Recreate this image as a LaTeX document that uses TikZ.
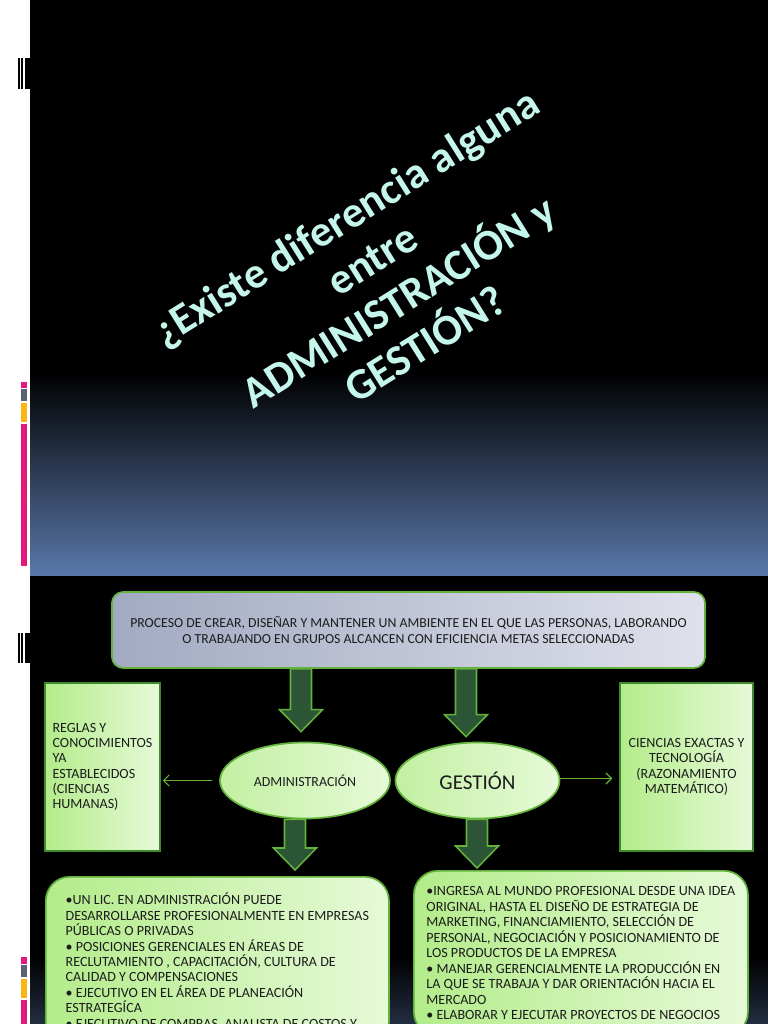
\documentclass[tikz,border=0pt]{standalone}
\usepackage{fontspec}
\setmainfont{Carlito}
\usetikzlibrary{positioning, arrows.meta, calc, shapes.geometric}
\definecolor{slideblue}{HTML}{5A78AA}
\definecolor{leafgreen}{HTML}{62B23C}
\definecolor{deepgreen}{HTML}{3E8A2C}
\definecolor{mossgreen}{HTML}{2B5535}
\definecolor{mintleft}{HTML}{B3EC8A}
\definecolor{mintright}{HTML}{E6FAD8}
\definecolor{greyleft}{HTML}{A2AAC2}
\definecolor{greyright}{HTML}{DFE1EB}
\definecolor{inkblack}{HTML}{1C1C1C}
\definecolor{glowmint}{HTML}{C4F6EC}
\definecolor{barpink}{HTML}{E2197C}
\definecolor{bargrey}{HTML}{586275}
\definecolor{bargold}{HTML}{FBB515}

% block arrow from #1 (top of shaft) to #2 (tip)
\newcommand{\blockarrow}[2]{%
  \draw[blockarr] ($(#1)+(-10.5,0)$) -- ($(#2)+(-10.5,-22)$) -- ($(#2)+(-21.5,-22)$) -- (#2)
    -- ($(#2)+(21.5,-22)$) -- ($(#2)+(10.5,-22)$) -- ($(#1)+(10.5,0)$) -- cycle;}

\begin{document}
\begin{tikzpicture}[
    x=0.025cm, y=-0.025cm,
    % Styles
    titletext/.style={font=\fontsize{31}{35.5}\selectfont\bfseries, text=glowmint, align=center, rotate=32},
    topbox/.style={rectangle, draw=leafgreen, line width=1.2pt, rounded corners=8pt, left color=greyleft, right color=greyright, minimum width=14.825cm, minimum height=1.9cm, align=center, text=inkblack, font=\fontsize{9.8}{10.8}\selectfont},
    sidebox/.style={rectangle, draw=deepgreen, line width=0.9pt, left color=mintleft, right color=mintright, minimum height=4.2cm, text=inkblack},
    ellnode/.style={ellipse, draw=leafgreen, line width=1.2pt, left color=mintleft!80!white, right color=mintright, minimum height=1.9cm, inner sep=0pt, text=inkblack},
    infobox/.style={rectangle, draw=leafgreen, line width=1.2pt, rounded corners=17pt, left color=mintleft, right color=mintright, anchor=north west, align=left, inner ysep=0.4cm, text=inkblack, font=\fontsize{10}{11}\selectfont},
    blockarr/.style={draw=leafgreen, line width=1.1pt, fill=mossgreen, line join=miter},
    thinarrow/.style={-{Straight Barb[length=4pt, width=8pt]}, leafgreen, line width=0.8pt}
]
\useasboundingbox (0,0) rectangle (768,1024);
\clip (0,0) rectangle (768,1024);

% ==================== SLIDE BACKGROUNDS ====================
\fill[white] (0,0) rectangle (768,1024);
\fill[black] (30,0) rectangle (768,372);
\shade[top color=black, bottom color=slideblue] (30,372) rectangle (768,576);
\fill[black] (30,576) rectangle (768,956);
\shade[top color=black, bottom color=slideblue!38!black] (30,956) rectangle (768,1024);

% side marks
\fill[black] (17.5,58) rectangle (19.5,89);
\fill[black] (21,58) rectangle (23,89);
\fill[black] (25,58) rectangle (30,89);
\fill[black] (17.5,633) rectangle (19.5,663);
\fill[black] (21,633) rectangle (23,663);
\fill[black] (25,633) rectangle (30,663);

\fill[barpink] (21,382) rectangle (27,388);
\fill[bargrey] (21,389) rectangle (27,401);
\fill[bargold] (21,403) rectangle (27,422);
\fill[barpink] (21,424) rectangle (27,566);
\fill[barpink] (21,957) rectangle (27,964);
\fill[bargrey] (21,965) rectangle (27,977);
\fill[bargold] (21,979) rectangle (27,998);
\fill[barpink] (21,1000) rectangle (27,1024);

% ==================== TITLE ====================
\node[titletext] (title) at (385,280) {¿Existe diferencia alguna\\entre\\ADMINISTRACIÓN y\\GESTIÓN?};

% ==================== DEFINITION ====================
\node[topbox] (top) at (408.5,630) {PROCESO DE CREAR, DISEÑAR Y MANTENER UN AMBIENTE EN EL QUE LAS PERSONAS, LABORANDO\\O TRABAJANDO EN GRUPOS ALCANCEN CON EFICIENCIA METAS SELECCIONADAS};

% ==================== CONCEPTS ====================
\node[ellnode, minimum width=4.25cm, font=\fontsize{9.9}{11}\selectfont] (adm) at (305,780.5) {ADMINISTRACIÓN};
\node[ellnode, minimum width=4.1cm, font=\fontsize{15}{16}\selectfont] (ges) at (477.5,780.5) {GESTIÓN};

\node[sidebox, minimum width=2.875cm, align=left, font=\fontsize{10}{10.9}\selectfont] (rules) at (102.5,767) {REGLAS Y\\CONOCIMIENTOS\\YA\\ESTABLECIDOS\\(CIENCIAS\\HUMANAS)};
\node[sidebox, minimum width=3.325cm, align=center, font=\fontsize{10}{11}\selectfont] (exact) at (686.5,767) {CIENCIAS EXACTAS Y\\TECNOLOGÍA\\(RAZONAMIENTO\\MATEMÁTICO)};

\draw[thinarrow, shorten <=5pt, shorten >=1.5pt] (adm.west) -- (adm.west -| rules.east);
\draw[thinarrow, shorten >=5pt] ($(ges.east)+(0,-2)$) -- ($(ges.east -| exact.west)+(0,-2)$);

% ==================== PROFILES ====================
\node[infobox, minimum width=8.575cm] (lic) at (45,876) {•UN LIC. EN ADMINISTRACIÓN PUEDE\\
DESARROLLARSE PROFESIONALMENTE EN EMPRESAS\\
PÚBLICAS O PRIVADAS\\
• POSICIONES GERENCIALES EN ÁREAS DE\\
RECLUTAMIENTO , CAPACITACIÓN, CULTURA DE\\
CALIDAD Y COMPENSACIONES\\
• EJECUTIVO EN EL ÁREA DE PLANEACIÓN\\
ESTRATEGÍCA\\
• EJECUTIVO DE COMPRAS, ANALISTA DE COSTOS Y};

\node[infobox, minimum width=8.35cm] (ing) at (413,870) {•INGRESA AL MUNDO PROFESIONAL DESDE UNA IDEA\\
ORIGINAL, HASTA EL DISEÑO DE ESTRATEGIA DE\\
MARKETING, FINANCIAMIENTO, SELECCIÓN DE\\
PERSONAL, NEGOCIACIÓN Y POSICIONAMIENTO DE\\
LOS PRODUCTOS DE LA EMPRESA\\
• MANEJAR GERENCIALMENTE LA PRODUCCIÓN EN\\
LA QUE SE TRABAJA Y DAR ORIENTACIÓN HACIA EL\\
MERCADO\\
• ELABORAR Y EJECUTAR PROYECTOS DE NEGOCIOS};

% ==================== BLOCK ARROWS ====================
\coordinate (c1) at (301,0);
\coordinate (c2) at (466,0);
\coordinate (c3) at (295,0);
\coordinate (c4) at (477,0);

\coordinate (t1) at ($(adm.north -| c1)+(0,-10)$);
\coordinate (t2) at ($(ges.north -| c2)+(0,-5)$);
\coordinate (t3) at ($(lic.north -| c3)+(0,-6)$);
\coordinate (t4) at ($(ing.north -| c4)+(0,-2)$);

\blockarrow{top.south -| c1}{t1}
\blockarrow{top.south -| c2}{t2}
\blockarrow{adm.south -| c3}{t3}
\blockarrow{ges.south -| c4}{t4}

\end{tikzpicture}
\end{document}
